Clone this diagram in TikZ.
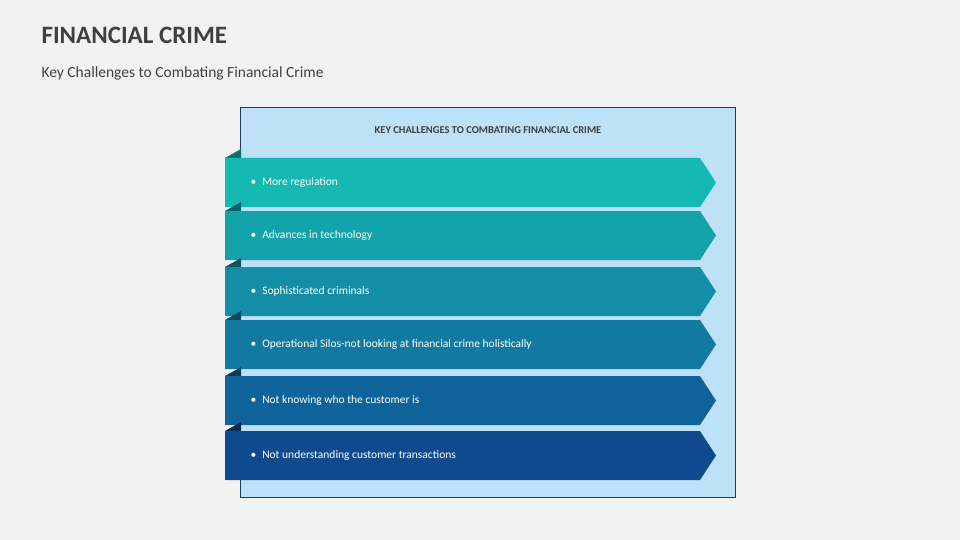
\documentclass[tikz,border=0pt]{standalone}
\usepackage{fontspec}
\setmainfont{Carlito}
\begin{document}
\begin{tikzpicture}[x=1pt,y=-1pt]
\definecolor{bg}{HTML}{F2F2F2}
\definecolor{panel}{HTML}{BDE1F7}
\definecolor{pborder}{HTML}{1F3864}
\definecolor{cA}{HTML}{14BAB2}
\definecolor{cB}{HTML}{13A3AB}
\definecolor{cC}{HTML}{138EA6}
\definecolor{cD}{HTML}{1279A0}
\definecolor{cE}{HTML}{10639A}
\definecolor{cF}{HTML}{0F4A8F}
\tikzset{lbl/.style={text=white,font=\fontsize{11.5}{13}\selectfont,anchor=west}}
\fill[bg] (0,0) rectangle (960,540);
\node[anchor=west,font=\fontsize{25}{28}\selectfont\bfseries,text=black!75] (t) at (38,35) {FINANCIAL CRIME};
\node[anchor=west,font=\fontsize{15.5}{18}\selectfont,text=black!75] (st) at (38,73) {Key Challenges to Combating Financial Crime};
\draw[pborder,fill=panel] (240.5,107.5) rectangle (735.5,497.5);
\node[font=\fontsize{10.5}{12}\selectfont\bfseries,text=black!75] (h) at (488,130) {KEY CHALLENGES TO COMBATING FINANCIAL CRIME};
\foreach \t/\c/\txt [count=\i] in {158/cA/More regulation,211/cB/Advances in technology,267/cC/Sophisticated criminals,320/cD/Operational Silos-not looking at financial crime holistically,376/cE/Not knowing who the customer is,431/cF/Not understanding customer transactions}{
  \fill[\c!60!black] (225,\t) -- (241,\t-9) -- (241,\t) -- cycle;
  \fill[\c] (225,\t) -- (700,\t) -- (716,\t+24.5) -- (700,\t+49) -- (225,\t+49) -- cycle;
  \node[lbl] (r\i) at (247,\t+24.5) {\textbullet\hspace{6pt}\txt};
}
\end{tikzpicture}
\end{document}
